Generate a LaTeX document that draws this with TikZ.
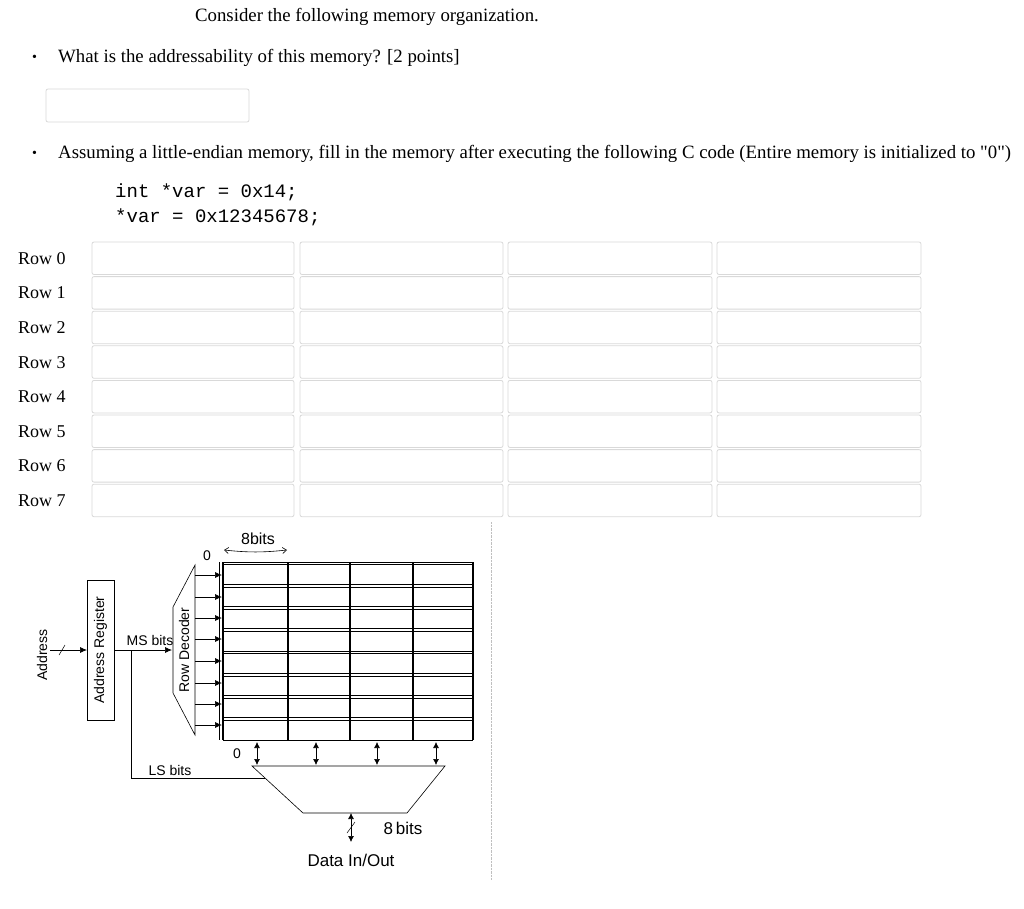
\documentclass[tikz,border=0pt]{standalone}
\usepackage{fontspec}
\setmainfont{Liberation Serif}
\setmonofont{Liberation Mono}
\setsansfont{Liberation Sans}
\newfontfamily\quotefont{Liberation Serif}[Ligatures=TeXOff]
\usetikzlibrary{arrows.meta}
\begin{document}
\begin{tikzpicture}[x=1pt,y=-1pt,
  txt/.style={font=\fontsize{18.8}{21}\selectfont,anchor=west,inner sep=0},
  rowl/.style={font=\fontsize{18}{20}\selectfont,anchor=west,inner sep=0},
  field/.style={draw=black!15,rounded corners=2pt,line width=0.8pt},
  dg/.style={font=\sffamily\fontsize{14}{15}\selectfont,inner sep=0},
  ar/.style={-{Latex[length=7pt,width=6pt]},line width=0.7pt},
  bar/.style={{Latex[length=6pt,width=6pt]}-{Latex[length=6pt,width=6pt]},line width=0.7pt}]
\useasboundingbox[fill=white] (0,0) rectangle (1024,908);
\node[txt,anchor=center] (title) at (367,17) {Consider the following memory organization.};
\node[txt,font=\fontsize{14}{16}\selectfont] (b1) at (32,58) {\textbullet};
\node[txt] (q1) at (58,58) {What is the addressability of this memory? [2 points]};
\draw[field] (46,89) rectangle (249,122);
\node[txt,font=\fontsize{14}{16}\selectfont] (b2) at (32,154) {\textbullet};
\node[txt] (q2) at (58,154) {Assuming a little-endian memory, fill in the memory after executing the following C code (Entire memory is initialized to {\quotefont "0"})};
\node[txt,font=\ttfamily\fontsize{19}{21}\selectfont] (c1) at (115,192) {int *var = 0x14;};
\node[txt,font=\ttfamily\fontsize{19}{21}\selectfont] (c2) at (115,217) {*var = 0x12345678;};
\foreach \r in {0,...,7}{
  \pgfmathsetmacro\yy{242+34.6*\r}
  \node[rowl] (row\r) at (18,\yy+16.5) {Row \r};
  \foreach \xa/\xb in {92/294,300/503,508/712,717/921}
    \draw[field] (\xa,\yy) rectangle (\xb,\yy+32.5);
}
\draw[black!25,densely dotted] (491,522) -- (491,880);
% memory grid
\foreach \i in {0,...,8}{
  \pgfmathsetmacro\yy{562+22.25*\i}
  \draw[line width=0.9pt] (223,\yy) -- (473,\yy);
  \ifnum\i<8 \draw[line width=0.5pt] (223,\yy+2.5) -- (473,\yy+2.5); \fi
}
\foreach \xx in {223,288,350,413,473}
  \draw[line width=1.8pt] (\xx,562) -- (\xx,740);
\draw[line width=0.6pt] (219.5,562) -- (219.5,740);
\node[dg,font=\sffamily\fontsize{16}{17}\selectfont] (eb) at (258,539) {8bits};
\draw[{Straight Barb[length=4pt,width=6pt]}-{Straight Barb[length=4pt,width=6pt]},line width=0.6pt] (224,550) to[bend right=6] (287,550);
\node[dg] (z1) at (207,556) {0};
% row decoder
\draw[line width=0.6pt] (173,607) -- (195,565) -- (195,735) -- (173,693) -- cycle;
\node[dg,rotate=90] (rd) at (184,650) {Row Decoder};
\foreach \yy in {575,597,618,639,661,683,704,725}
  \draw[ar] (195,\yy) -- (222,\yy);
% address register
\draw[line width=0.6pt] (87,580) rectangle (114,720);
\node[dg,rotate=90] (areg) at (100.5,650) {Address Register};
\node[dg,rotate=90] (addr) at (42,655) {Address};
\draw[ar] (50,650) -- (87,650);
\draw[line width=0.5pt] (59,655) -- (65,645);
\draw[ar] (114,650) -- (172,650);
\node[dg,inner sep=0.5pt] (ms) at (150,640) {MS bits};
\draw[line width=0.6pt] (131,650) -- (131,778) -- (265,778);
\node[dg] (ls) at (170,770) {LS bits};
% mux
\draw[line width=0.6pt] (252,766) -- (445,766) -- (407,813) -- (303,813) -- cycle;
\foreach \xx in {257,316,377,436}
  \draw[bar] (\xx,742) -- (\xx,765);
\node[dg] (z2) at (237,754) {0};
\draw[bar] (351,813) -- (351,842);
\draw[line width=0.5pt] (347,833) -- (355,822);
\node[dg,font=\sffamily\fontsize{17}{18}\selectfont] (eb2) at (403,828) {8\,bits};
\node[dg,font=\sffamily\fontsize{17}{18}\selectfont] (dio) at (351,860) {Data In/Out};
\end{tikzpicture}
\end{document}
